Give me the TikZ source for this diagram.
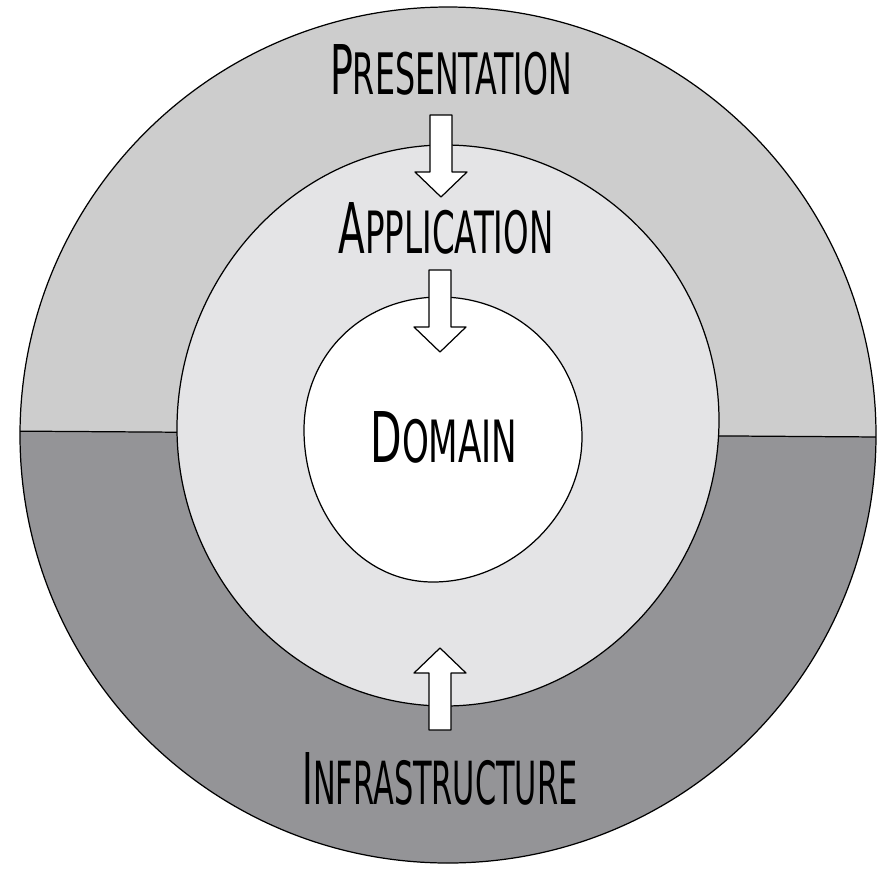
\documentclass[tikz,border=0pt]{standalone}
\usepackage{fontspec}
\newfontfamily\layerfont{DejaVu Sans Condensed}
\definecolor{upperring}{HTML}{CDCDCD}
\definecolor{lowerring}{HTML}{949497}
\definecolor{midring}{HTML}{E4E4E6}
\newcommand{\layername}[4]{\resizebox{#1}{#2}{\layerfont{\large #3}#4}}
\tikzset{
  ringline/.style={draw=black, line width=0.7pt},
  layerarrow/.style={draw=black, fill=white, line width=0.7pt, line join=round},
  layerlabel/.style={inner sep=0pt}
}
\begin{document}
\begin{tikzpicture}[x=0.02cm, y=-0.02cm]
  \useasboundingbox (0,0) rectangle (880,870);
  % outer ring, split in two halves
  \begin{scope}
    \clip (448,435) circle (428);
    \fill[upperring] (0,0) -- (880,0) -- (880,437) -- (0,431) -- cycle;
    \fill[lowerring] (0,431) -- (880,437) -- (880,870) -- (0,870) -- cycle;
    \draw[ringline] (0,431) -- (880,437);
  \end{scope}
  \draw[ringline] (448,435) circle (428);
  % application ring
  \draw[ringline, fill=midring] (445,145)
    .. controls (596,145) and (719,272) .. (719,420)
    .. controls (719,570) and (598,706) .. (445,706)
    .. controls (296,706) and (177,578) .. (177,428)
    .. controls (177,280) and (294,145) .. (445,145) -- cycle;
  % domain core
  \draw[ringline, fill=white] (440,297)
    .. controls (520,297) and (582,360) .. (582,437)
    .. controls (582,515) and (512,582) .. (433,582)
    .. controls (356,582) and (304,508) .. (304,430)
    .. controls (304,355) and (362,297) .. (440,297) -- cycle;
  % arrows between layers
  \foreach \ax/\ay/\dir in {441/197/1, 440/352/1, 440/648/-1}
    \draw[layerarrow, shift={(\ax,\ay)}, yscale=\dir]
      (-11,-82) -- (11,-82) -- (11,-25) -- (26,-25) -- (0,0)
      -- (-26,-25) -- (-11,-25) -- cycle;
  % labels
  \node[layerlabel] (presentation) at (451,70)
    {\layername{4.84cm}{1cm}{P}{RESENTATION}};
  \node[layerlabel] (application) at (446,228)
    {\layername{4.3cm}{1.02cm}{A}{PPLICATION}};
  \node[layerlabel] (domain) at (444,437)
    {\layername{2.94cm}{1.02cm}{D}{OMAIN}};
  \node[layerlabel] (infrastructure) at (440,779)
    {\layername{5.5cm}{1.04cm}{I}{NFRASTRUCTURE}};
\end{tikzpicture}
\end{document}
